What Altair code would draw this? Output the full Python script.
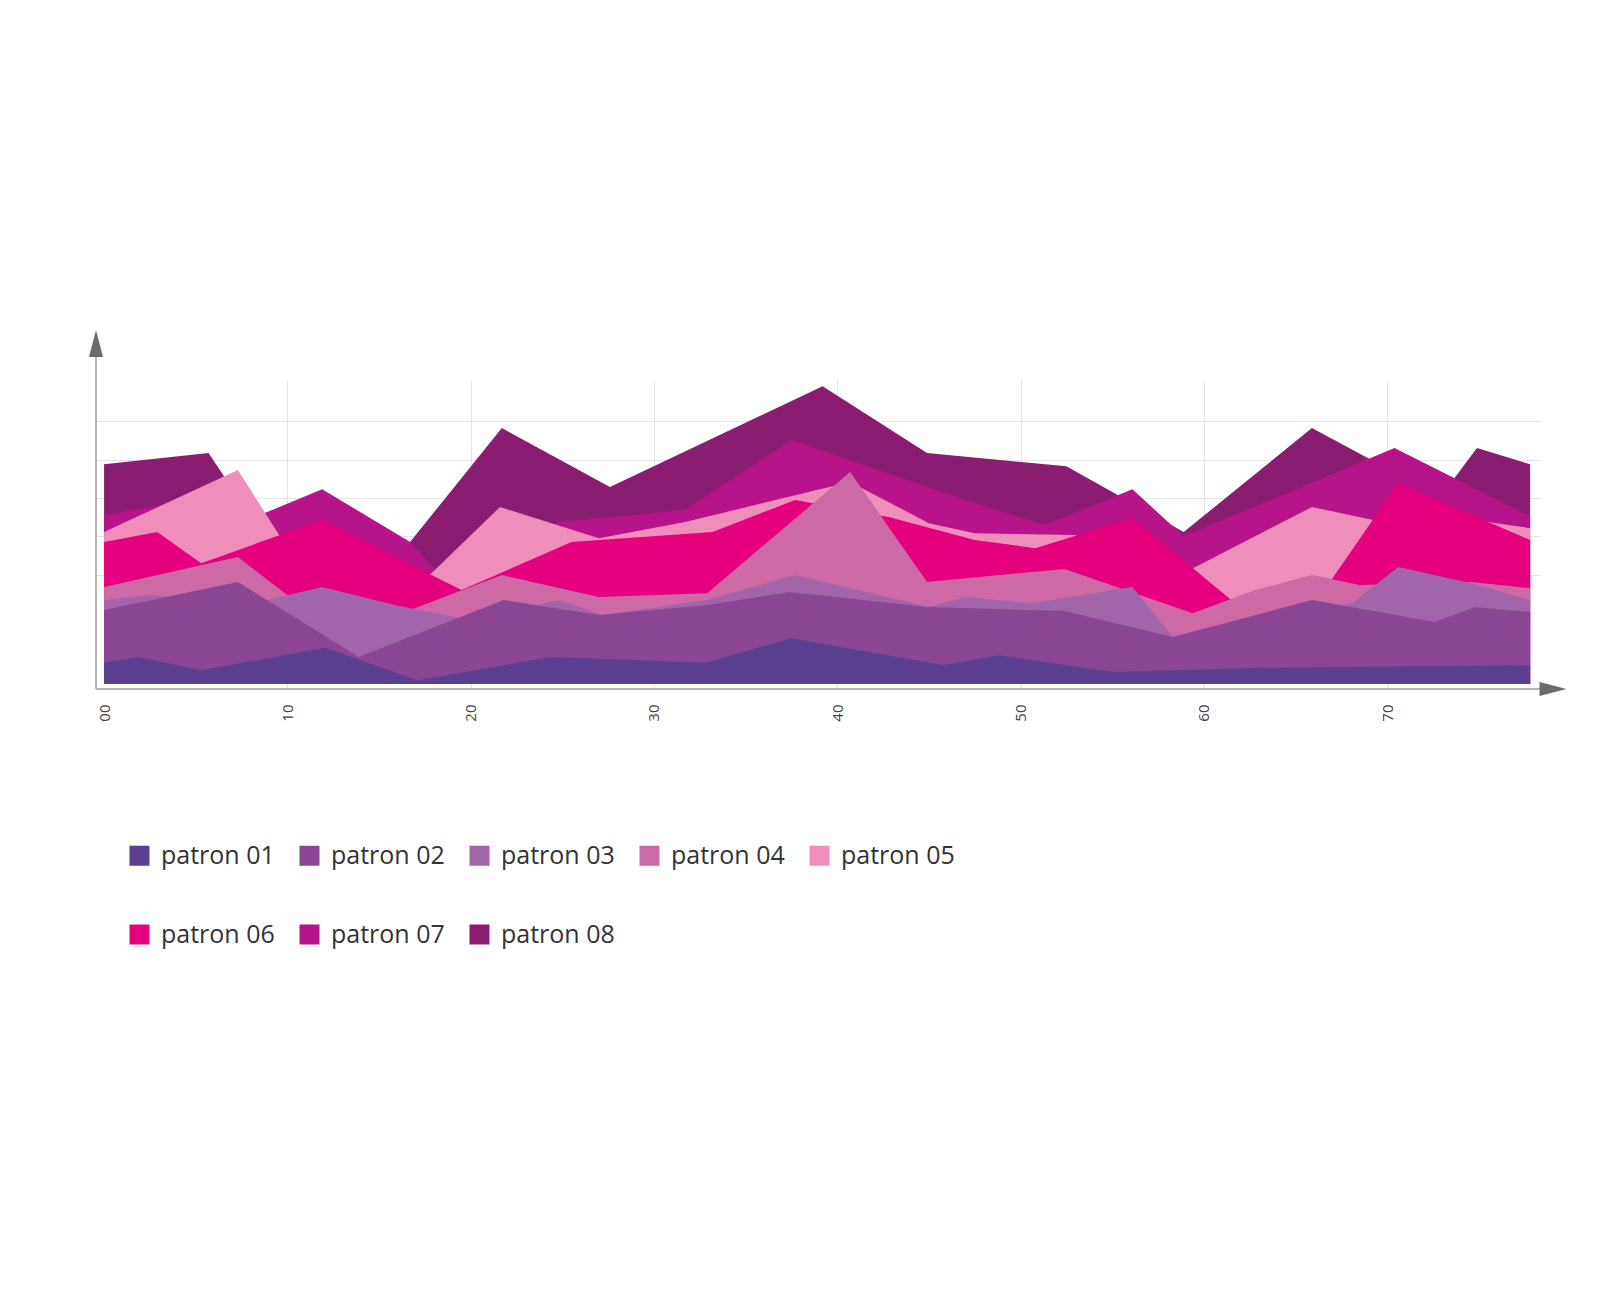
import altair as alt
import pandas as pd

patrons = ["patron 01", "patron 02", "patron 03", "patron 04",
           "patron 05", "patron 06", "patron 07", "patron 08"]
colors = ["#5B3F91", "#8B4595", "#A365A9", "#CD6AA5",
          "#EF8EBB", "#E5007D", "#B7138A", "#8A1D72"]
# back-to-front drawing order as seen in the picture
draw_order = ["patron 08", "patron 07", "patron 05", "patron 06",
              "patron 04", "patron 03", "patron 02", "patron 01"]

x_ticks = [0, 10, 20, 30, 40, 50, 60, 70]
y_grid = [28.3, 38.4, 48.3, 58.2, 68.3]

p01_x = [0, 1.9, 5.3, 12.1, 17.1, 24.4, 32.8, 37.5, 45.8, 48.8, 55.0, 63.3, 77.8]
p01_y = [5.5, 7.0, 3.6, 9.4, 1.0, 7.0, 5.5, 11.9, 4.9, 7.5, 3.1, 4.2, 4.9]

p02_x = [0, 7.3, 13.9, 21.8, 27.0, 32.9, 37.4, 44.9, 52.4, 58.3, 65.9, 72.6, 74.8, 77.8]
p02_y = [19.2, 26.5, 7.0, 21.8, 17.9, 20.5, 23.9, 20.0, 19.0, 12.2, 21.8, 16.1, 20.0, 18.7]

p03_x = [0, 2.5, 7.4, 8.9, 11.9, 16.1, 20.0, 24.8, 27.2, 32.9, 37.7, 45.0, 47.0,
         50.6, 56.1, 58.3, 63.3, 68.1, 70.6, 74.6, 77.8]
p03_y = [21.8, 23.1, 21.0, 21.8, 25.2, 20.3, 16.6, 21.8, 17.9, 21.8, 28.3, 20.0, 22.6,
         21.0, 25.2, 12.2, 17.9, 21.0, 30.4, 26.2, 21.8]

p04_x = [0, 7.3, 10.7, 16.7, 21.7, 27.0, 32.9, 40.7, 44.9, 52.4, 59.4, 62.8, 65.9,
         68.5, 74.6, 77.8]
p04_y = [25.2, 33.0, 20.5, 19.2, 28.3, 22.6, 23.6, 55.1, 26.5, 29.9, 18.4, 24.4, 28.3,
         25.7, 26.5, 24.9]

p05_x = [0, 7.3, 9.9, 17.2, 21.6, 27.0, 31.7, 40.7, 45.0, 47.5, 53.0, 57.1, 65.9,
         71.8, 75.5, 77.8]
p05_y = [39.5, 55.6, 36.1, 25.7, 46.0, 37.9, 42.1, 52.5, 41.8, 39.2, 38.7, 24.4, 46.0,
         40.0, 42.1, 40.5]

p06_x = [0, 2.9, 5.3, 11.9, 15.9, 19.5, 25.5, 33.2, 37.7, 42.8, 47.5, 50.8, 56.1,
         61.5, 66.2, 70.6, 77.8]
p06_y = [36.9, 39.5, 31.4, 42.6, 33.0, 24.4, 36.9, 39.5, 47.8, 43.4, 37.4, 35.3, 43.1,
         21.8, 21.8, 52.2, 37.4]

p07_x = [0, 4.7, 8.5, 11.9, 16.7, 18.3, 24.8, 31.7, 37.5, 47.0, 51.3, 56.1, 58.9,
         70.4, 77.8]
p07_y = [43.9, 47.8, 43.9, 50.6, 36.9, 28.3, 42.1, 45.2, 63.4, 47.8, 41.3, 50.6, 38.4,
         61.3, 43.6]

p08_x = [0, 5.7, 8.5, 15.9, 21.7, 27.6, 39.2, 44.9, 52.5, 58.9, 65.9, 72.9, 74.9, 77.8]
p08_y = [57.1, 60.0, 40.0, 32.2, 66.5, 51.2, 77.4, 60.0, 56.6, 39.5, 66.5, 48.6, 61.3, 57.1]

series = {
    "patron 01": (p01_x, p01_y), "patron 02": (p02_x, p02_y),
    "patron 03": (p03_x, p03_y), "patron 04": (p04_x, p04_y),
    "patron 05": (p05_x, p05_y), "patron 06": (p06_x, p06_y),
    "patron 07": (p07_x, p07_y), "patron 08": (p08_x, p08_y),
}

rows = []
for name, (xs, ys) in series.items():
    for xv, yv in zip(xs, ys):
        rows.append({"patron": name, "x": xv, "y": yv})
df = pd.DataFrame(rows)

W, H = 1444, 309
FONT = "Open Sans"

x_enc = alt.X("x:Q",
              scale=alt.Scale(domain=[-0.44, 78.34], nice=False, zero=False),
              axis=alt.Axis(title=None, values=x_ticks, format="02d", labelAngle=-90,
                            labelFontSize=15, labelColor="#444444", labelFont=FONT,
                            labelPadding=15, ticks=False, domain=False,
                            grid=True, gridColor="#e4e4e4", gridWidth=1,
                            gridOpacity=alt.condition("datum.value === 0", alt.value(0), alt.value(1))))
y_enc = alt.Y("y:Q",
              scale=alt.Scale(domain=[-1.3, 79], nice=False, zero=False),
              axis=alt.Axis(title=None, values=y_grid, labels=False, ticks=False,
                            domain=False, grid=True, gridColor="#e4e4e4", gridWidth=1))
color_enc = alt.Color("patron:N",
                      scale=alt.Scale(domain=patrons, range=colors),
                      sort=patrons,
                      legend=alt.Legend(title=None, orient="none", legendX=31, legendY=463,
                                        direction="horizontal", columns=5,
                                        symbolType="square", symbolSize=400,
                                        symbolStrokeWidth=0, symbolOpacity=1,
                                        labelFontSize=25, labelFont=FONT, labelColor="#333333",
                                        labelOffset=9, columnPadding=22, rowPadding=53,
                                        padding=0, labelLimit=300))

layers = []
for name in draw_order:
    layers.append(
        alt.Chart(df).transform_filter(alt.datum.patron == name)
        .mark_area(opacity=1, interpolate="linear")
        .encode(x=x_enc, y=y_enc, y2=alt.datum(0), color=color_enc)
    )

one = pd.DataFrame({"k": [0]})
axis_color = "#b3b3b3"
y_line = alt.Chart(one).mark_rule(color=axis_color, strokeWidth=2).encode(
    x=alt.value(0), y=alt.value(-23), y2=alt.value(H))
x_line = alt.Chart(one).mark_rule(color=axis_color, strokeWidth=2).encode(
    x=alt.value(0), x2=alt.value(W), y=alt.value(H))
y_arrow = alt.Chart(one).mark_point(shape="M0,-1L0.52,1L-0.52,1Z", filled=True, size=729,
                                    color="#6b6b6b", opacity=1, strokeWidth=0).encode(
    x=alt.value(0), y=alt.value(-36.5))
x_arrow = alt.Chart(one).mark_point(shape="M1,0L-1,0.52L-1,-0.52Z", filled=True, size=729,
                                    color="#6b6b6b", opacity=1, strokeWidth=0).encode(
    x=alt.value(W + 13), y=alt.value(H))

chart = alt.layer(*layers, y_line, x_line, y_arrow, x_arrow).properties(
    width=W, height=H,
    autosize=alt.AutoSizeParams(type="none"),
    padding={"left": 88, "top": 372, "right": 40, "bottom": 320},
    background="white",
).configure_view(strokeWidth=0)

chart.save("out.html", embed_options={"renderer": "svg", "actions": False})
